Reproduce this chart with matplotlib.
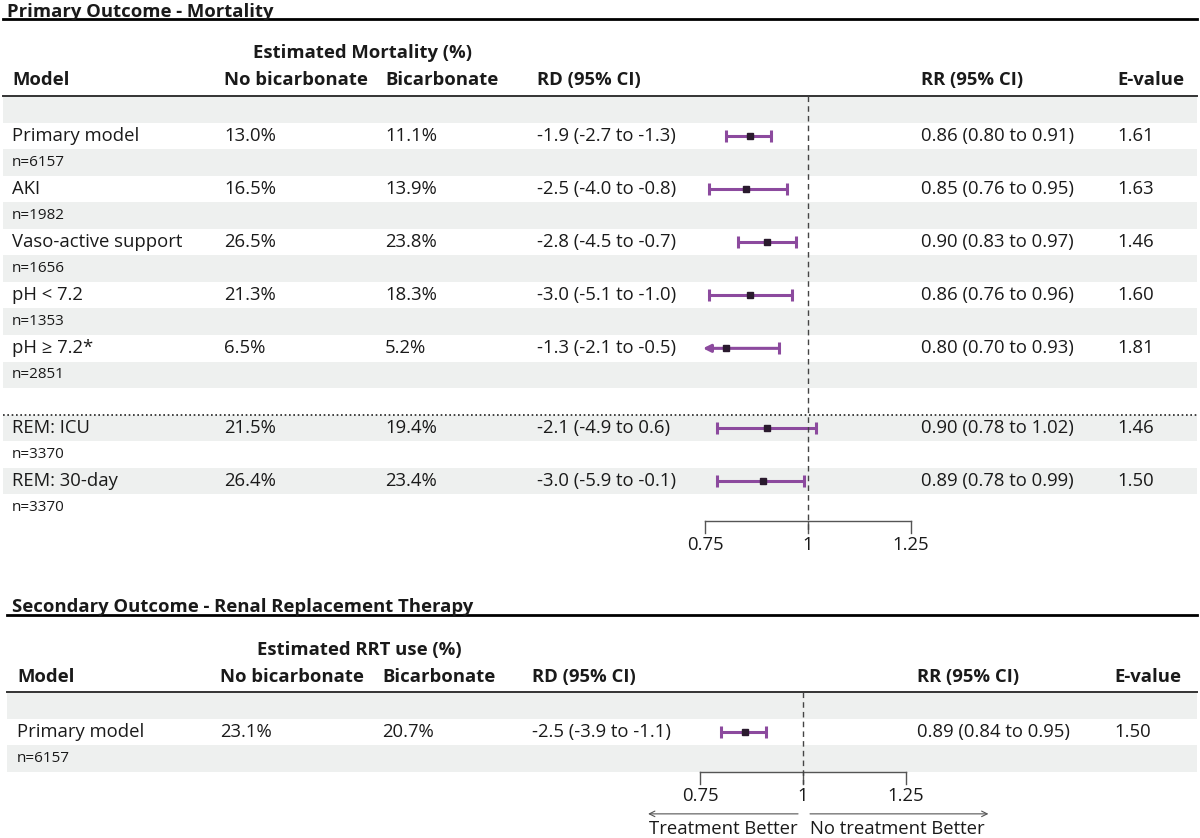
import matplotlib
matplotlib.use("Agg")
import matplotlib.pyplot as plt
import matplotlib.transforms as mtransforms

plt.rcParams["font.family"] = ["Open Sans", "Noto Sans", "DejaVu Sans"]

# ---- data: primary outcome (mortality) ----
models = ["Primary model", "AKI", "Vaso-active support", "pH < 7.2", "pH \u2265 7.2*",
          "REM: ICU", "REM: 30-day"]
n_obs = [6157, 1982, 1656, 1353, 2851, 3370, 3370]
no_bicarb = [13.0, 16.5, 26.5, 21.3, 6.5, 21.5, 26.4]
bicarb = [11.1, 13.9, 23.8, 18.3, 5.2, 19.4, 23.4]
rd = [-1.9, -2.5, -2.8, -3.0, -1.3, -2.1, -3.0]
rd_lo = [-2.7, -4.0, -4.5, -5.1, -2.1, -4.9, -5.9]
rd_hi = [-1.3, -0.8, -0.7, -1.0, -0.5, 0.6, -0.1]
rr = [0.86, 0.85, 0.90, 0.86, 0.80, 0.90, 0.89]
rr_lo = [0.80, 0.76, 0.83, 0.76, 0.70, 0.78, 0.78]
rr_hi = [0.91, 0.95, 0.97, 0.96, 0.93, 1.02, 0.99]
evalue = [1.61, 1.63, 1.46, 1.60, 1.81, 1.46, 1.50]

# ---- data: secondary outcome (RRT) ----
rrt_models = ["Primary model"]
rrt_n = [6157]
rrt_no_bicarb = [23.1]
rrt_bicarb = [20.7]
rrt_rd = [-2.5]
rrt_rd_lo = [-3.9]
rrt_rd_hi = [-1.1]
rrt_rr = [0.89]
rrt_rr_lo = [0.84]
rrt_rr_hi = [0.95]
rrt_evalue = [1.50]
# marks as they are drawn in the reference plot
rrt_plot_rr = [0.86]
rrt_plot_lo = [0.80]
rrt_plot_hi = [0.91]

ticks = [0.75, 1, 1.25]
tick_labels = ["0.75", "1", "1.25"]

# ---- style ----
W, H = 1200, 838
STRIPE = "#eef0ef"
PURPLE = "#8c4a9e"
POINT = "#2a1a2e"
TXT = "#1a1a1a"
FS = 13.3
FS_N = 11
CLIP = 0.745
u = 0.25 / 103  # RR units per pixel

fig = plt.figure(figsize=(12, 8.38), dpi=100)


def px_axes(top, bottom, x_one):
    ax = fig.add_axes([0, 1 - bottom / H, 1, (bottom - top) / H])
    ax.set_xlim(1 - x_one * u, 1 + (W - x_one) * u)
    ax.axis("off")
    return ax


def draw_panel(ax, nrows, rows, title, est_title, cols, est_x, title_x, span,
               labels, ns, nob, bic, rds, rdl, rdh, rrs, rrl, rrh, evs,
               pe, plo, phi, sep=None, ylab=(-3.22, -2.89, -1.6, -0.58)):
    ax.set_ylim(nrows, 0)
    tr = mtransforms.blended_transform_factory(ax.transAxes, ax.transData)
    x0, x1 = span[0] / W, span[1] / W

    for i in range(0, nrows, 2):
        ax.axhspan(i, i + 1, xmin=x0, xmax=x1, color=STRIPE, lw=0, zorder=0)

    t_y, ul_y, est_y, hd_y = ylab
    ax.text(title_x / W, t_y, title, transform=tr, fontsize=FS, fontweight="bold",
            va="center", color=TXT)
    ax.plot([x0, x1], [ul_y, ul_y], transform=tr, color="black", lw=2, clip_on=False)
    ax.text(est_x / W, est_y, est_title, transform=tr, fontsize=FS, fontweight="bold",
            va="center", ha="center", color=TXT)
    heads = ["Model", "No bicarbonate", "Bicarbonate", "RD (95% CI)", "RR (95% CI)", "E-value"]
    for cx, h in zip(cols, heads):
        ax.text(cx / W, hd_y, h, transform=tr, fontsize=FS, fontweight="bold",
                va="center", color=TXT)
    ax.plot([x0, x1], [0, 0], transform=tr, color="#333333", lw=1.4, clip_on=False)

    if sep is not None:
        ax.plot([x0, x1], [sep, sep], transform=tr, color="#222222", lw=1.2,
                ls=(0, (1, 1.6)))

    for k, r in enumerate(rows):
        y = r + 0.5
        vals = [labels[k], f"{nob[k]:.1f}%", f"{bic[k]:.1f}%",
                f"{rds[k]:.1f} ({rdl[k]:.1f} to {rdh[k]:.1f})",
                f"{rrs[k]:.2f} ({rrl[k]:.2f} to {rrh[k]:.2f})", f"{evs[k]:.2f}"]
        for cx, v in zip(cols, vals):
            ax.text(cx / W, y, v, transform=tr, fontsize=FS, va="center", color=TXT)
        ax.text(cols[0] / W, y + 1, f"n={ns[k]}", transform=tr, fontsize=FS_N,
                va="center", color=TXT)

        lo = plo[k]
        if lo < CLIP:
            ax.annotate("", xy=(CLIP, y), xytext=(phi[k], y),
                        arrowprops=dict(arrowstyle="-|>", color=PURPLE, lw=2.2,
                                        mutation_scale=11, shrinkA=0, shrinkB=0))
        else:
            ax.plot([lo, phi[k]], [y, y], color=PURPLE, lw=2.2, solid_capstyle="butt")
            ax.plot([lo], [y], marker="|", ms=9, mew=2.2, color=PURPLE)
        ax.plot([phi[k]], [y], marker="|", ms=9, mew=2.2, color=PURPLE)
        ax.plot([pe[k]], [y], marker="s", ms=5, color=POINT, zorder=5)

    # axis with ticks
    ax.plot([ticks[0], ticks[-1]], [nrows, nrows], color="#555555", lw=1, clip_on=False)
    for t, tl in zip(ticks, tick_labels):
        ax.plot([t, t], [nrows, nrows + 0.45], color="#555555", lw=1, clip_on=False)
        ax.text(t, nrows + 0.9, tl, fontsize=FS, ha="center", va="center", color=TXT)
    ax.plot([1, 1], [0, nrows + 0.45], color="#444444", lw=1, ls=(0, (4, 3)),
            clip_on=False, zorder=3)


# ---- top panel ----
ax1 = px_axes(96, 521, 808)
rows_top = [1, 3, 5, 7, 9, 12, 14]
draw_panel(ax1, 16, rows_top, "Primary Outcome - Mortality", "Estimated Mortality (%)",
           [12, 224, 385, 537, 921, 1117], 362, 7, (3, 1197),
           models, n_obs, no_bicarb, bicarb, rd, rd_lo, rd_hi, rr, rr_lo, rr_hi, evalue,
           rr, rr_lo, rr_hi, sep=12, ylab=(-3.18, -2.88, -1.62, -0.6))

# ---- bottom panel ----
ax2 = px_axes(692, 772, 803)
draw_panel(ax2, 3, [1], "Secondary Outcome - Renal Replacement Therapy",
           "Estimated RRT use (%)",
           [17, 220, 382, 532, 917, 1114], 359, 12, (7, 1197),
           rrt_models, rrt_n, rrt_no_bicarb, rrt_bicarb, rrt_rd, rrt_rd_lo, rrt_rd_hi,
           rrt_rr, rrt_rr_lo, rrt_rr_hi, rrt_evalue,
           rrt_plot_rr, rrt_plot_lo, rrt_plot_hi, ylab=(-3.2, -2.89, -1.58, -0.56))

# direction arrows under the bottom axis
ax2.annotate("", xy=(1 - 0.376, 4.57), xytext=(1 - 0.012, 4.57), annotation_clip=False,
             arrowprops=dict(arrowstyle="->", color="#555555", lw=0.8, shrinkA=0, shrinkB=0))
ax2.annotate("", xy=(1 + 0.45, 4.57), xytext=(1 + 0.017, 4.57), annotation_clip=False,
             arrowprops=dict(arrowstyle="->", color="#555555", lw=0.8, shrinkA=0, shrinkB=0))
ax2.text(1 - 0.012, 5.12, "Treatment Better", fontsize=FS, ha="right", va="center", color=TXT)
ax2.text(1 + 0.017, 5.12, "No treatment Better", fontsize=FS, ha="left", va="center", color=TXT)

fig.savefig("out.png", dpi=100)
